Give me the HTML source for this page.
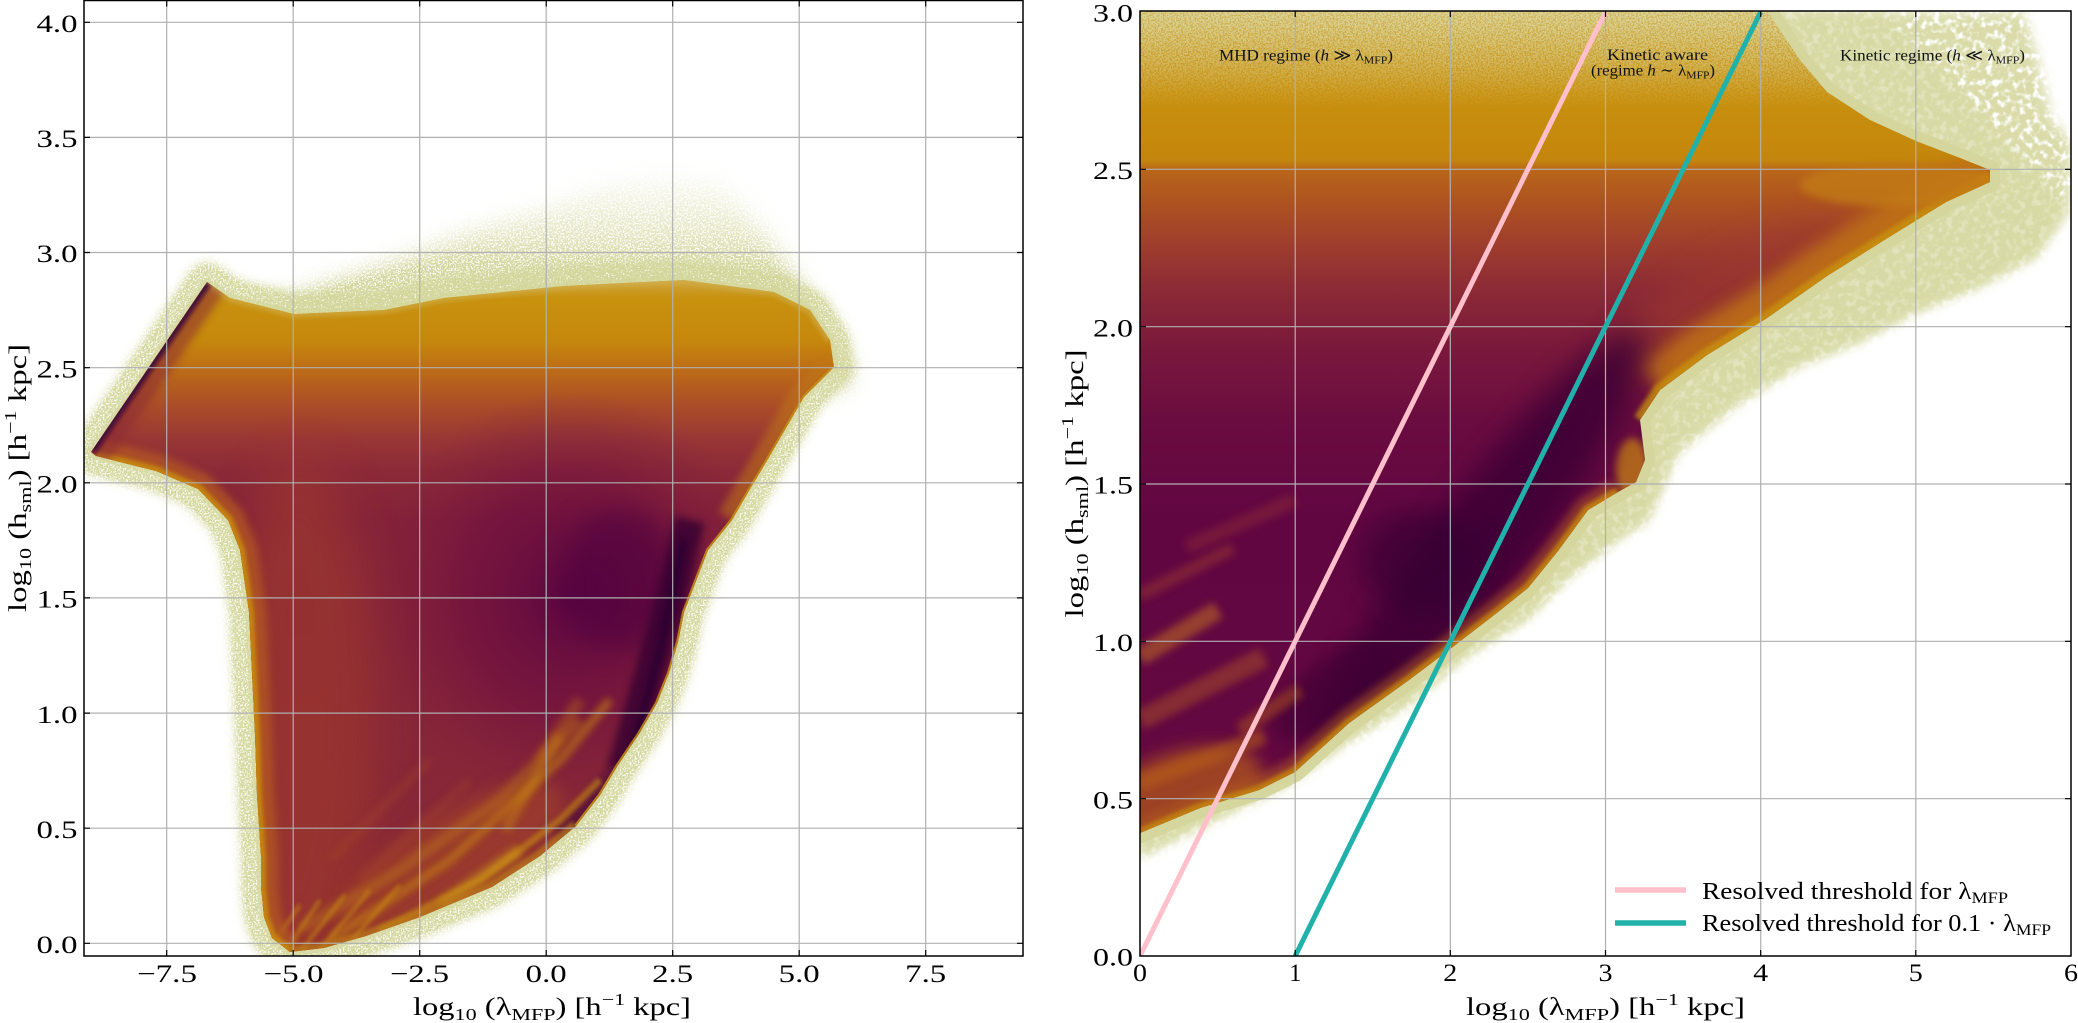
<!DOCTYPE html>
<html><head><meta charset="utf-8"><style>html,body{margin:0;padding:0;background:#fff}svg{display:block}</style></head>
<body>
<svg xmlns="http://www.w3.org/2000/svg" width="2078" height="1023" viewBox="0 0 2078 1023" font-family="'Liberation Serif','DejaVu Serif',serif">
<defs>
  <filter id="spk" filterUnits="userSpaceOnUse" x="0" y="0" width="2078" height="1023">
    <feTurbulence type="fractalNoise" baseFrequency="0.6" numOctaves="2" seed="4" result="n"/>
    <feColorMatrix in="n" type="matrix" values="0 0 0 0 0  0 0 0 0 0  0 0 0 0 0  5 0 0 0 -1.9" result="m"/>
    <feComposite in="SourceGraphic" in2="m" operator="in"/>
  </filter>
  <filter id="sps" filterUnits="userSpaceOnUse" x="0" y="0" width="2078" height="1023">
    <feGaussianBlur in="SourceGraphic" stdDeviation="6" result="s"/>
    <feComponentTransfer in="s" result="s2"><feFuncA type="linear" slope="1.8" intercept="0"/></feComponentTransfer>
    <feTurbulence type="fractalNoise" baseFrequency="0.6" numOctaves="2" seed="4" result="n"/>
    <feColorMatrix in="n" type="matrix" values="0 0 0 0 0  0 0 0 0 0  0 0 0 0 0  4 0 0 0 -1.2" result="m"/>
    <feComposite in="s2" in2="m" operator="in"/>
  </filter>
  <filter id="sps15" filterUnits="userSpaceOnUse" x="0" y="0" width="2078" height="1023">
    <feGaussianBlur in="SourceGraphic" stdDeviation="12" result="s"/>
    <feComponentTransfer in="s" result="s2"><feFuncA type="linear" slope="1.5" intercept="0"/></feComponentTransfer>
    <feTurbulence type="fractalNoise" baseFrequency="0.6" numOctaves="2" seed="11" result="n"/>
    <feColorMatrix in="n" type="matrix" values="0 0 0 0 0  0 0 0 0 0  0 0 0 0 0  5 0 0 0 -1.7" result="m"/>
    <feComposite in="s2" in2="m" operator="in"/>
  </filter>
  <filter id="sps2" filterUnits="userSpaceOnUse" x="0" y="0" width="2078" height="1023">
    <feGaussianBlur in="SourceGraphic" stdDeviation="6" result="s"/>
    <feTurbulence type="fractalNoise" baseFrequency="0.15" numOctaves="2" seed="9" result="n"/>
    <feColorMatrix in="n" type="matrix" values="0 0 0 0 0  0 0 0 0 0  0 0 0 0 0  4 0 0 0 -1.1" result="m"/>
    <feComposite in="s" in2="m" operator="in"/>
  </filter>
  <filter id="b2" filterUnits="userSpaceOnUse" x="0" y="0" width="2078" height="1023"><feGaussianBlur stdDeviation="2"/></filter>
  <filter id="b4" filterUnits="userSpaceOnUse" x="0" y="0" width="2078" height="1023"><feGaussianBlur stdDeviation="4"/></filter>
  <filter id="b8" filterUnits="userSpaceOnUse" x="0" y="0" width="2078" height="1023"><feGaussianBlur stdDeviation="8"/></filter>
  <filter id="b14" filterUnits="userSpaceOnUse" x="0" y="0" width="2078" height="1023"><feGaussianBlur stdDeviation="14"/></filter>
  <filter id="b22" filterUnits="userSpaceOnUse" x="0" y="0" width="2078" height="1023"><feGaussianBlur stdDeviation="22"/></filter>

  <linearGradient id="gL" gradientUnits="userSpaceOnUse" x1="0" y1="280" x2="0" y2="956">
    <stop offset="0" stop-color="#d0a640"/>
    <stop offset="0.027" stop-color="#c8920e"/>
    <stop offset="0.089" stop-color="#c6880c"/>
    <stop offset="0.121" stop-color="#c07414"/>
    <stop offset="0.155" stop-color="#b55e1e"/>
    <stop offset="0.192" stop-color="#a84a2a"/>
    <stop offset="0.237" stop-color="#983636"/>
    <stop offset="0.281" stop-color="#8c2a38"/>
    <stop offset="0.355" stop-color="#84223a"/>
    <stop offset="1" stop-color="#8a2a36"/>
  </linearGradient>
  <linearGradient id="gR" gradientUnits="userSpaceOnUse" x1="0" y1="11" x2="0" y2="956">
    <stop offset="0" stop-color="#d2b65c"/>
    <stop offset="0.041" stop-color="#cca232"/>
    <stop offset="0.089" stop-color="#c8900e"/>
    <stop offset="0.158" stop-color="#c4860c"/>
    <stop offset="0.168" stop-color="#b9661a"/>
    <stop offset="0.2" stop-color="#ae5420"/>
    <stop offset="0.242" stop-color="#a0402c"/>
    <stop offset="0.295" stop-color="#8c2a36"/>
    <stop offset="0.359" stop-color="#7a183c"/>
    <stop offset="0.433" stop-color="#6a0c40"/>
    <stop offset="0.539" stop-color="#620642"/>
    <stop offset="1" stop-color="#660a40"/>
  </linearGradient>
  <linearGradient id="gSpL" gradientUnits="userSpaceOnUse" x1="0" y1="150" x2="0" y2="320">
    <stop offset="0" stop-color="#d2d69c" stop-opacity="0"/>
    <stop offset="0.3" stop-color="#d2d69c" stop-opacity="0.2"/>
    <stop offset="0.6" stop-color="#d2d69c" stop-opacity="0.55"/>
    <stop offset="0.82" stop-color="#d0d498" stop-opacity="0.95"/>
    <stop offset="1" stop-color="#d0d498" stop-opacity="1"/>
  </linearGradient>
  <linearGradient id="gTopR" gradientUnits="userSpaceOnUse" x1="0" y1="11" x2="0" y2="110">
    <stop offset="0" stop-color="#dcdcaa" stop-opacity="0.85"/>
    <stop offset="0.5" stop-color="#dcdcaa" stop-opacity="0.45"/>
    <stop offset="1" stop-color="#dcdcaa" stop-opacity="0"/>
  </linearGradient>
  <radialGradient id="rMar" cx="0.5" cy="0.5" r="0.5">
    <stop offset="0" stop-color="#5a0442" stop-opacity="0.9"/>
    <stop offset="0.55" stop-color="#6c0c40" stop-opacity="0.55"/>
    <stop offset="1" stop-color="#7a1a3c" stop-opacity="0"/>
  </radialGradient>

  <clipPath id="cAxL"><rect x="84" y="0.5" width="939" height="955.5"/></clipPath>
  <clipPath id="cAxR"><rect x="1140" y="11" width="931" height="945"/></clipPath>
  <clipPath id="cLB"><path id="pLB" d="M91,452 L207,282 L230,298 L294,314 L384,310 L444,298 L564,286 L684,280 L774,292 L810,310 L830,340 L834,367 L804,397 L786,428 L768,459 L750,489 L732,520 L708,550 L696,581 L684,612 L678,642 L669,673 L657,703 L639,734 L618,765 L600,795 L576,826 L540,856 L492,887 L420,917 L366,936 L324,948 L290,952 L272,938 L264,917 L261,887 L261,856 L257,795 L255,734 L252,673 L249,612 L240,550 L228,520 L198,489 L156,471 L96,456 Z"/></clipPath>
  <clipPath id="cRB"><path id="pRB" d="M1140,11 L1767,11 L1800,60 L1827,92 L1870,120 L1916,141 L1960,158 L1990,170 L1990,182 L1946,202 L1886,239 L1827,276 L1767,318 L1707,355 L1660,390 L1640,420 L1645,460 L1636,482 L1618,492 L1588,510 L1558,551 L1528,588 L1498,612 L1450,649 L1409,680 L1349,723 L1295,772 L1259,790 L1200,808 L1140,833 Z"/></clipPath>
</defs>

<rect width="2078" height="1023" fill="#fff"/>

<!-- ================= LEFT PANEL ================= -->
<g clip-path="url(#cAxL)">
  <!-- sparse upper speckle -->
  <path d="M210,310 L293,298 L394,264 L470,232 L546,210 L597,188 L673,176 L723,186 L770,240 L800,288 L825,335 L850,365 L840,395 L800,330 L600,305 L300,320 Z" fill="url(#gSpL)" filter="url(#sps15)"/>
  <!-- fringe -->
  <use href="#pLB" fill="#d4d79c" stroke="#d4d79c" stroke-width="34" stroke-linejoin="round" filter="url(#sps)"/>
  <use href="#pLB" fill="#d4d79c" stroke="#d4d79c" stroke-width="8" stroke-linejoin="round" opacity="0.6"/>
  <!-- body -->
  <use href="#pLB" fill="url(#gL)"/>
  <g clip-path="url(#cLB)">
    <!-- left reddish-orange side -->
    <ellipse cx="300" cy="720" rx="75" ry="260" fill="#a23c2c" opacity="0.55" filter="url(#b22)"/>
    <!-- maroon core -->
    <ellipse cx="570" cy="600" rx="200" ry="210" fill="url(#rMar)"/>
    <ellipse cx="620" cy="580" rx="60" ry="70" fill="#4e0440" opacity="0.6" filter="url(#b14)"/>
    <!-- dark streak near right edge -->
    <path d="M690,520 L668,610 L645,690 L622,770" stroke="#360432" stroke-width="30" fill="none" opacity="0.8" filter="url(#b4)"/>
    <path d="M684,540 L660,650 L630,760" stroke="#2a0430" stroke-width="8" fill="none" opacity="0.75" filter="url(#b2)"/>
    <path d="M622,770 L590,810 L560,840" stroke="#4a0a3a" stroke-width="24" fill="none" opacity="0.65" filter="url(#b4)"/>
    <!-- lower streaks (rust/orange/gold) -->
    <ellipse cx="450" cy="860" rx="130" ry="45" transform="rotate(-32 450 860)" fill="#a84a26" opacity="0.5" filter="url(#b8)"/>
    <path d="M330,940 L450,860 L560,760 L610,700" stroke="#c8860e" stroke-width="8" fill="none" opacity="0.65" filter="url(#b4)"/>
    <path d="M300,930 L400,870 L500,800 L580,720" stroke="#c07818" stroke-width="12" fill="none" opacity="0.45" filter="url(#b4)"/>
    <path d="M380,930 L480,880 L560,820 L600,780" stroke="#c89010" stroke-width="7" fill="none" opacity="0.6" filter="url(#b2)"/>
    <path d="M440,905 L520,850" stroke="#d09a18" stroke-width="12" fill="none" opacity="0.55" filter="url(#b4)"/>
    <path d="M505,830 L560,735" stroke="#c8880e" stroke-width="10" fill="none" opacity="0.5" filter="url(#b4)"/>
    <path d="M540,760 L580,700" stroke="#b86418" stroke-width="12" fill="none" opacity="0.45" filter="url(#b4)"/>
    <path d="M270,948 L300,905 M285,952 L320,900 M300,952 L345,895 M320,950 L370,890 M345,948 L400,885" stroke="#c88c10" stroke-width="3.5" fill="none" opacity="0.7" filter="url(#b2)"/>
    <path d="M360,880 L470,780 M330,860 L430,760" stroke="#a8482a" stroke-width="8" fill="none" opacity="0.35" filter="url(#b4)"/>
    <!-- left rim -->
    <path d="M96,456 L156,471 L198,489 L228,520 L240,550 L249,612 L252,673 L255,734 L257,795 L261,856 L261,887 L264,917 L272,938 L290,952" stroke="#b45a20" stroke-width="34" fill="none" opacity="0.75" filter="url(#b4)"/>
    <path d="M96,456 L156,471 L198,489 L228,520 L240,550 L249,612 L252,673 L255,734 L257,795 L261,856 L261,887 L264,917 L272,938 L290,952" stroke="#c88a10" stroke-width="10" fill="none" opacity="0.9" filter="url(#b2)"/>
    <!-- bottom rim -->
    <path d="M290,952 L324,948 L366,936 L420,917 L492,887 L540,856 L576,826" stroke="#c08012" stroke-width="12" fill="none" opacity="0.7" filter="url(#b2)"/>
    <!-- right rim upper orange -->
    <path d="M834,367 L804,397 L786,428 L768,459 L750,489 L732,520" stroke="#c07818" stroke-width="30" fill="none" opacity="0.55" filter="url(#b4)"/>
    <path d="M834,367 L804,397 L786,428 L768,459 L750,489 L732,520 L708,550 L696,581 L684,612 L678,642 L669,673 L657,703 L639,734 L618,765 L600,795 L576,826" stroke="#c48a12" stroke-width="4" fill="none" opacity="0.9"/>
    <!-- top edge softening -->
    <path d="M207,282 L230,298 L294,314 L384,310 L444,298 L564,286 L684,280 L774,292 L810,310 L830,340" stroke="#d0b050" stroke-width="8" fill="none" opacity="0.6" filter="url(#b2)"/>
    <!-- diagonal dark edge -->
    <path d="M91,452 L207,282" stroke="#8a2a36" stroke-width="40" fill="none" opacity="0.55" filter="url(#b4)"/>
    <path d="M93,451 L208,283" stroke="#420838" stroke-width="7" fill="none" filter="url(#b2)"/>
  </g>
</g>
<!-- left grid -->
<g stroke="#b0b0b0" stroke-width="1.2">
  <path d="M166.7,0.5V956 M293.2,0.5V956 M419.7,0.5V956 M546.2,0.5V956 M672.7,0.5V956 M799.2,0.5V956 M925.7,0.5V956"/>
  <path d="M84,943.3H1023 M84,828.2H1023 M84,713.1H1023 M84,597.9H1023 M84,482.8H1023 M84,367.7H1023 M84,252.5H1023 M84,137.4H1023 M84,22.3H1023"/>
</g>
<!-- left ticks -->
<g stroke="#000" stroke-width="1.2">
  <path d="M166.7,956v-6 M293.2,956v-6 M419.7,956v-6 M546.2,956v-6 M672.7,956v-6 M799.2,956v-6 M925.7,956v-6"/>
  <path d="M166.7,0.5v6 M293.2,0.5v6 M419.7,0.5v6 M546.2,0.5v6 M672.7,0.5v6 M799.2,0.5v6 M925.7,0.5v6"/>
  <path d="M84,943.3h6 M84,828.2h6 M84,713.1h6 M84,597.9h6 M84,482.8h6 M84,367.7h6 M84,252.5h6 M84,137.4h6 M84,22.3h6"/>
  <path d="M1023,943.3h-6 M1023,828.2h-6 M1023,713.1h-6 M1023,597.9h-6 M1023,482.8h-6 M1023,367.7h-6 M1023,252.5h-6 M1023,137.4h-6 M1023,22.3h-6"/>
</g>
<rect x="84" y="0.5" width="939" height="955.5" fill="none" stroke="#000" stroke-width="1.5"/>
<!-- left tick labels -->
<g font-size="25" fill="#000" text-anchor="end">
  <text x="77.5" y="953" textLength="41" lengthAdjust="spacingAndGlyphs">0.0</text>
  <text x="77.5" y="837.9" textLength="41" lengthAdjust="spacingAndGlyphs">0.5</text>
  <text x="77.5" y="722.8" textLength="41" lengthAdjust="spacingAndGlyphs">1.0</text>
  <text x="77.5" y="607.6" textLength="41" lengthAdjust="spacingAndGlyphs">1.5</text>
  <text x="77.5" y="492.5" textLength="41" lengthAdjust="spacingAndGlyphs">2.0</text>
  <text x="77.5" y="377.4" textLength="41" lengthAdjust="spacingAndGlyphs">2.5</text>
  <text x="77.5" y="262.2" textLength="41" lengthAdjust="spacingAndGlyphs">3.0</text>
  <text x="77.5" y="147.1" textLength="41" lengthAdjust="spacingAndGlyphs">3.5</text>
  <text x="77.5" y="32" textLength="41" lengthAdjust="spacingAndGlyphs">4.0</text>
</g>
<g font-size="25" fill="#000">
  <text x="137" y="982" textLength="60" lengthAdjust="spacingAndGlyphs">−7.5</text>
  <text x="263.5" y="982" textLength="60" lengthAdjust="spacingAndGlyphs">−5.0</text>
  <text x="390" y="982" textLength="59" lengthAdjust="spacingAndGlyphs">−2.5</text>
  <text x="525.7" y="982" textLength="41" lengthAdjust="spacingAndGlyphs">0.0</text>
  <text x="652.2" y="982" textLength="41" lengthAdjust="spacingAndGlyphs">2.5</text>
  <text x="778.7" y="982" textLength="41" lengthAdjust="spacingAndGlyphs">5.0</text>
  <text x="905.2" y="982" textLength="41" lengthAdjust="spacingAndGlyphs">7.5</text>
</g>
<!-- left axis labels -->
<text x="413" y="1015" font-size="25" fill="#000" textLength="278" lengthAdjust="spacingAndGlyphs">log<tspan font-size="17" dy="5">10</tspan><tspan dy="-5"> (λ</tspan><tspan font-size="17" dy="5">MFP</tspan><tspan dy="-5">) [h</tspan><tspan font-size="17" dy="-10">−1</tspan><tspan dy="10"> kpc]</tspan></text>
<text transform="translate(26,478) rotate(-90)" x="-134" y="0" font-size="25" fill="#000" textLength="268" lengthAdjust="spacingAndGlyphs">log<tspan font-size="17" dy="5">10</tspan><tspan dy="-5"> (h</tspan><tspan font-size="17" dy="5">sml</tspan><tspan dy="-5">) [h</tspan><tspan font-size="17" dy="-10">−1</tspan><tspan dy="10"> kpc]</tspan></text>

<!-- ================= RIGHT PANEL ================= -->
<g clip-path="url(#cAxR)">
  <!-- fringe -->
  <path d="M1767,11 L2024,11 L2038,60 L2052,120 L2071,140 L2071,202 L2036,257 L1976,288 L1916,312 L1856,343 L1797,367 L1737,404 L1677,453 L1648,520 L1618,539 L1570,576 L1528,618 L1468,655 L1409,704 L1349,741 L1289,784 L1200,827 L1140,857 L1140,833 Z" fill="#d6d8a0" filter="url(#sps2)" opacity="0.9"/>
  <path d="M1767,11 L1880,11 L1950,80 L2071,210 L2036,257 L1976,288 L1916,312 L1856,343 L1797,367 L1737,404 L1677,453 L1648,520 L1618,539 L1570,576 L1528,618 L1468,655 L1409,704 L1349,741 L1289,784 L1200,827 L1140,857 L1140,833 Z" fill="#d8daa4" opacity="0.7" filter="url(#b4)"/>
  <use href="#pRB" fill="#d4d69c" stroke="#d4d69c" stroke-width="20" stroke-linejoin="round" opacity="0.9"/>
  <!-- body -->
  <use href="#pRB" fill="url(#gR)"/>
  <g clip-path="url(#cRB)">
    <!-- top mottling (smooth fade) -->
    <rect x="1140" y="11" width="931" height="100" fill="url(#gTopR)" filter="url(#spk)"/>
    <!-- orange wedge right of teal line -->
    <ellipse cx="1730" cy="300" rx="140" ry="45" transform="rotate(-30 1730 300)" fill="#9c3a2e" opacity="0.6" filter="url(#b14)"/>
    <path d="M1990,178 L1946,202 L1886,239 L1827,276 L1767,318 L1707,355 L1660,390" stroke="#c07214" stroke-width="64" fill="none" opacity="0.85" filter="url(#b8)"/>
    <path d="M1990,178 L1946,202 L1886,239 L1827,276 L1767,318 L1707,355 L1660,390 L1640,420" stroke="#c8900e" stroke-width="14" fill="none" opacity="0.85" filter="url(#b2)"/>
    <ellipse cx="1900" cy="185" rx="100" ry="22" fill="#c27a12" opacity="0.8" filter="url(#b4)"/>
    <!-- bump -->
    <ellipse cx="1632" cy="470" rx="16" ry="32" fill="#c07a18" opacity="0.8" filter="url(#b4)"/>
    <!-- dark band -->
    <ellipse cx="1478" cy="548" rx="270" ry="48" transform="rotate(-53 1478 548)" fill="#3e0535" opacity="0.85" filter="url(#b14)"/>
    <ellipse cx="1420" cy="560" rx="60" ry="50" fill="#320432" opacity="0.6" filter="url(#b14)"/>
    <ellipse cx="1330" cy="690" rx="70" ry="28" transform="rotate(-40 1330 690)" fill="#3e0535" opacity="0.6" filter="url(#b8)"/>
    <!-- lower-left orange / rust streaks -->
    <ellipse cx="1185" cy="790" rx="80" ry="40" transform="rotate(-15 1185 790)" fill="#b0561e" opacity="0.75" filter="url(#b8)"/>
    <path d="M1140,657 L1218,610" stroke="#c07020" stroke-width="18" fill="none" opacity="0.55" filter="url(#b4)"/>
    <path d="M1140,720 L1264,657" stroke="#b05820" stroke-width="20" fill="none" opacity="0.45" filter="url(#b4)"/>
    <path d="M1140,783 L1264,736" stroke="#b86018" stroke-width="16" fill="none" opacity="0.55" filter="url(#b4)"/>
    <path d="M1187,547 L1295,500" stroke="#8a2a36" stroke-width="14" fill="none" opacity="0.5" filter="url(#b4)"/>
    <path d="M1140,595 L1233,548" stroke="#9a3a2e" stroke-width="12" fill="none" opacity="0.5" filter="url(#b4)"/>
    <path d="M1240,730 L1300,690" stroke="#b86018" stroke-width="14" fill="none" opacity="0.45" filter="url(#b4)"/>
    <!-- lower boundary rim -->
    <path d="M1618,492 L1588,510 L1558,551 L1528,588 L1498,612 L1450,649 L1409,680 L1349,723 L1295,772 L1259,790 L1200,808 L1140,833" stroke="#b05a20" stroke-width="28" fill="none" opacity="0.55" filter="url(#b4)"/>
    <path d="M1618,492 L1588,510 L1558,551 L1528,588 L1498,612 L1450,649 L1409,680 L1349,723 L1295,772 L1259,790 L1200,808 L1140,833" stroke="#c48410" stroke-width="10" fill="none" opacity="0.9" filter="url(#b2)"/>
  </g>
</g>
<!-- right grid -->
<g stroke="#b0b0b0" stroke-width="1.2">
  <path d="M1295.2,11V956 M1450.3,11V956 M1605.5,11V956 M1760.7,11V956 M1915.8,11V956"/>
  <path d="M1140,798.7H2071 M1140,641.3H2071 M1140,484H2071 M1140,326.7H2071 M1140,169.3H2071"/>
</g>
<!-- threshold lines -->
<g clip-path="url(#cAxR)">
  <line x1="1140" y1="956" x2="1605.5" y2="12" stroke="#ffc0cb" stroke-width="5"/>
  <line x1="1295.2" y1="956" x2="1760.7" y2="12" stroke="#20b2aa" stroke-width="5"/>
</g>
<!-- regime labels -->
<g font-size="16" fill="#111">
  <text x="1219" y="60.5" textLength="174" lengthAdjust="spacingAndGlyphs">MHD regime (<tspan font-style="italic">h</tspan> ≫ λ<tspan font-size="11" dy="3">MFP</tspan><tspan dy="-3">)</tspan></text>
  <text x="1607" y="60" textLength="101" lengthAdjust="spacingAndGlyphs">Kinetic aware</text>
  <text x="1591" y="75.5" textLength="124" lengthAdjust="spacingAndGlyphs">(regime <tspan font-style="italic">h</tspan> ∼ λ<tspan font-size="11" dy="3">MFP</tspan><tspan dy="-3">)</tspan></text>
  <text x="1840" y="60.5" textLength="185" lengthAdjust="spacingAndGlyphs">Kinetic regime (<tspan font-style="italic">h</tspan> ≪ λ<tspan font-size="11" dy="3">MFP</tspan><tspan dy="-3">)</tspan></text>
</g>
<!-- legend -->
<line x1="1615" y1="890" x2="1686" y2="890" stroke="#ffc0cb" stroke-width="5.5"/>
<line x1="1615" y1="923" x2="1686" y2="923" stroke="#20b2aa" stroke-width="5.5"/>
<g font-size="24" fill="#000">
  <text x="1702" y="899" textLength="306" lengthAdjust="spacingAndGlyphs">Resolved threshold for λ<tspan font-size="16" dy="4">MFP</tspan></text>
  <text x="1702" y="931" textLength="349" lengthAdjust="spacingAndGlyphs">Resolved threshold for 0.1 · λ<tspan font-size="16" dy="4">MFP</tspan></text>
</g>
<!-- right ticks -->
<g stroke="#000" stroke-width="1.2">
  <path d="M1295.2,956v-6 M1450.3,956v-6 M1605.5,956v-6 M1760.7,956v-6 M1915.8,956v-6"/>
  <path d="M1295.2,11v6 M1450.3,11v6 M1605.5,11v6 M1760.7,11v6 M1915.8,11v6"/>
  <path d="M1140,798.7h6 M1140,641.3h6 M1140,484h6 M1140,326.7h6 M1140,169.3h6"/>
  <path d="M2071,798.7h-6 M2071,641.3h-6 M2071,484h-6 M2071,326.7h-6 M2071,169.3h-6"/>
</g>
<rect x="1140" y="11" width="931" height="945" fill="none" stroke="#000" stroke-width="1.5"/>
<!-- right tick labels -->
<g font-size="25" fill="#000" text-anchor="end">
  <text x="1133" y="965.7" textLength="40" lengthAdjust="spacingAndGlyphs">0.0</text>
  <text x="1133" y="808.4" textLength="40" lengthAdjust="spacingAndGlyphs">0.5</text>
  <text x="1133" y="651" textLength="40" lengthAdjust="spacingAndGlyphs">1.0</text>
  <text x="1133" y="493.7" textLength="40" lengthAdjust="spacingAndGlyphs">1.5</text>
  <text x="1133" y="336.4" textLength="40" lengthAdjust="spacingAndGlyphs">2.0</text>
  <text x="1133" y="179" textLength="40" lengthAdjust="spacingAndGlyphs">2.5</text>
  <text x="1133" y="21.7" textLength="40" lengthAdjust="spacingAndGlyphs">3.0</text>
</g>
<g font-size="25" fill="#000">
  <text x="1133" y="981" textLength="14" lengthAdjust="spacingAndGlyphs">0</text>
  <text x="1289.2" y="981" textLength="12" lengthAdjust="spacingAndGlyphs">1</text>
  <text x="1443.3" y="981" textLength="14" lengthAdjust="spacingAndGlyphs">2</text>
  <text x="1598.5" y="981" textLength="14" lengthAdjust="spacingAndGlyphs">3</text>
  <text x="1753.2" y="981" textLength="15" lengthAdjust="spacingAndGlyphs">4</text>
  <text x="1908.8" y="981" textLength="14" lengthAdjust="spacingAndGlyphs">5</text>
  <text x="2064" y="981" textLength="14" lengthAdjust="spacingAndGlyphs">6</text>
</g>
<!-- right axis labels -->
<text x="1466" y="1015" font-size="25" fill="#000" textLength="279" lengthAdjust="spacingAndGlyphs">log<tspan font-size="17" dy="5">10</tspan><tspan dy="-5"> (λ</tspan><tspan font-size="17" dy="5">MFP</tspan><tspan dy="-5">) [h</tspan><tspan font-size="17" dy="-10">−1</tspan><tspan dy="10"> kpc]</tspan></text>
<text transform="translate(1083,483.5) rotate(-90)" x="-134" y="0" font-size="25" fill="#000" textLength="268" lengthAdjust="spacingAndGlyphs">log<tspan font-size="17" dy="5">10</tspan><tspan dy="-5"> (h</tspan><tspan font-size="17" dy="5">sml</tspan><tspan dy="-5">) [h</tspan><tspan font-size="17" dy="-10">−1</tspan><tspan dy="10"> kpc]</tspan></text>
</svg>
</body></html>
